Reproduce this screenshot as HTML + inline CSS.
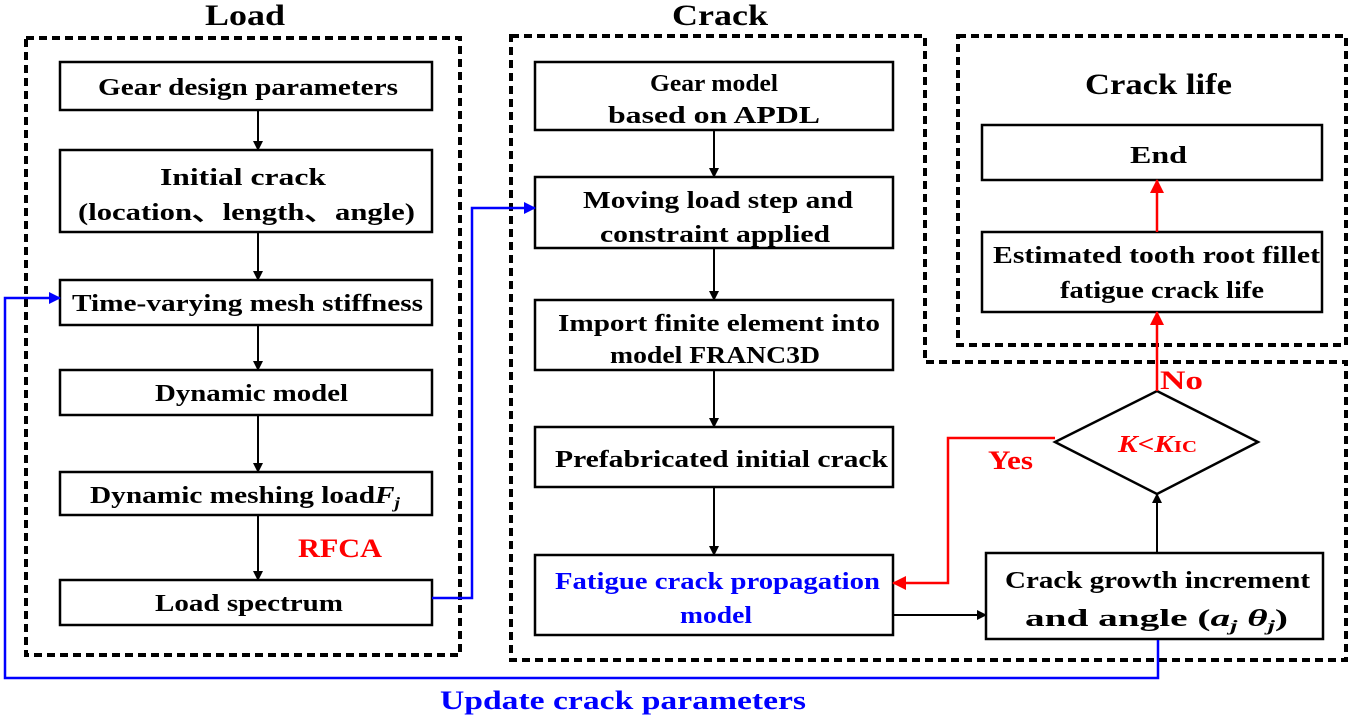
<!DOCTYPE html>
<html><head><meta charset="utf-8"><style>
html,body{margin:0;padding:0;background:#fff;}
svg{display:block;}
text{font-family:"Liberation Serif",serif;font-weight:bold;}
</style></head><body>
<svg width="1354" height="718" viewBox="0 0 1354 718" xmlns="http://www.w3.org/2000/svg">
<defs>
<marker id="ak" markerWidth="10" markerHeight="10" refX="9" refY="5" orient="auto" markerUnits="userSpaceOnUse"><path d="M0,0 L10,5 L0,10 z" fill="#000"/></marker>
<marker id="ar" markerWidth="14" markerHeight="14" refX="13" refY="7" orient="auto" markerUnits="userSpaceOnUse"><path d="M0,0 L14,7 L0,14 z" fill="#f00"/></marker>
<marker id="ab" markerWidth="12" markerHeight="12" refX="11" refY="6" orient="auto" markerUnits="userSpaceOnUse"><path d="M0,0 L12,6 L0,12 z" fill="#00f"/></marker>
</defs>
<g fill="none" stroke="#000" stroke-width="4" stroke-dasharray="8,5">
<rect x="26" y="38" width="434" height="617"/>
<path d="M511,36 H925 V362 H1346 V660 H511 Z"/>
<rect x="958" y="36" width="388" height="309"/>
</g>
<text x="205" y="25" font-size="30" textLength="80" lengthAdjust="spacingAndGlyphs">Load</text>
<text x="672" y="25" font-size="30" textLength="96" lengthAdjust="spacingAndGlyphs">Crack</text>
<text x="1085" y="94" font-size="30" textLength="147" lengthAdjust="spacingAndGlyphs">Crack life</text>
<g fill="#fff" stroke="#000" stroke-width="2.5">
<rect x="60" y="62" width="372" height="48"/>
<rect x="60" y="150" width="372" height="82"/>
<rect x="60" y="280" width="372" height="45"/>
<rect x="60" y="370" width="372" height="45"/>
<rect x="60" y="472" width="372" height="43"/>
<rect x="60" y="580" width="372" height="45"/>
<rect x="535" y="62" width="358" height="68"/>
<rect x="535" y="177" width="358" height="71"/>
<rect x="535" y="300" width="358" height="70"/>
<rect x="535" y="427" width="358" height="60"/>
<rect x="535" y="555" width="358" height="80"/>
<rect x="986" y="553" width="337" height="86"/>
<rect x="982" y="232" width="340" height="80"/>
<rect x="982" y="125" width="340" height="55"/>
<path d="M1157,391 L1258,442 L1157,494 L1055,442 Z"/>
</g>
<g font-size="24" fill="#000">
<text x="98" y="95" textLength="300" lengthAdjust="spacingAndGlyphs">Gear design parameters</text>
<text x="160" y="185" textLength="166" lengthAdjust="spacingAndGlyphs">Initial crack</text>
<text x="78" y="220" textLength="337" lengthAdjust="spacingAndGlyphs">(location、length、angle)</text>
<text x="72" y="311" textLength="351" lengthAdjust="spacingAndGlyphs">Time-varying mesh stiffness</text>
<text x="155" y="401" textLength="193" lengthAdjust="spacingAndGlyphs">Dynamic  model</text>
<text x="90" y="503" textLength="310" lengthAdjust="spacingAndGlyphs">Dynamic meshing load<tspan font-style="italic">F<tspan font-size="16" dy="5">j</tspan></tspan></text>
<text x="155" y="611" textLength="188" lengthAdjust="spacingAndGlyphs">Load spectrum</text>
<text x="650" y="91" textLength="128" lengthAdjust="spacingAndGlyphs">Gear model</text>
<text x="608" y="123" textLength="212" lengthAdjust="spacingAndGlyphs">based on APDL</text>
<text x="583" y="208" textLength="270" lengthAdjust="spacingAndGlyphs">Moving load step and</text>
<text x="600" y="242" textLength="230" lengthAdjust="spacingAndGlyphs">constraint applied</text>
<text x="558" y="331" textLength="322" lengthAdjust="spacingAndGlyphs">Import finite element into</text>
<text x="610" y="363" textLength="210" lengthAdjust="spacingAndGlyphs">model FRANC3D</text>
<text x="555" y="467" textLength="333" lengthAdjust="spacingAndGlyphs">Prefabricated initial crack</text>
<text x="555" y="589" fill="#00f" textLength="325" lengthAdjust="spacingAndGlyphs">Fatigue crack propagation</text>
<text x="680" y="623" fill="#00f" textLength="72" lengthAdjust="spacingAndGlyphs">model</text>
<text x="1005" y="588" textLength="305" lengthAdjust="spacingAndGlyphs">Crack growth increment</text>
<text x="1025" y="626" textLength="263" lengthAdjust="spacingAndGlyphs">and angle (<tspan font-style="italic">a<tspan font-size="16" dy="5">j</tspan><tspan dy="-5">  θ</tspan><tspan font-size="16" dy="5">j</tspan></tspan><tspan dy="-5">)</tspan></text>
<text x="993" y="263" textLength="327" lengthAdjust="spacingAndGlyphs">Estimated tooth root fillet</text>
<text x="1060" y="298" textLength="204" lengthAdjust="spacingAndGlyphs">fatigue crack life</text>
<text x="1130" y="163" textLength="57" lengthAdjust="spacingAndGlyphs">End</text>
<text x="1118" y="452" fill="#f00" font-style="italic" textLength="79" lengthAdjust="spacingAndGlyphs">K&lt;K<tspan font-style="normal" font-size="17">IC</tspan></text>
</g>
<g stroke="#000" stroke-width="2" fill="none" marker-end="url(#ak)">
<line x1="258" y1="110" x2="258" y2="150"/>
<line x1="258" y1="232" x2="258" y2="280"/>
<line x1="258" y1="325" x2="258" y2="370"/>
<line x1="258" y1="415" x2="258" y2="472"/>
<line x1="258" y1="515" x2="258" y2="580"/>
<line x1="714" y1="130" x2="714" y2="177"/>
<line x1="714" y1="248" x2="714" y2="300"/>
<line x1="714" y1="370" x2="714" y2="427"/>
<line x1="714" y1="487" x2="714" y2="555"/>
<line x1="893" y1="615" x2="986" y2="615"/>
<line x1="1157" y1="553" x2="1157" y2="494"/>
</g>
<g stroke="#f00" stroke-width="2.5" fill="none" marker-end="url(#ar)">
<path d="M1055,438 H948 V583 H893"/>
<line x1="1157" y1="391" x2="1157" y2="312"/>
<line x1="1157" y1="232" x2="1157" y2="180"/>
</g>
<g stroke="#00f" stroke-width="2.5" fill="none" marker-end="url(#ab)">
<path d="M432,598 H472 V208 H535"/>
<path d="M1158,640 V678 H5 V298 H60"/>
</g>
<text x="298" y="557" font-size="26" fill="#f00" textLength="84" lengthAdjust="spacingAndGlyphs">RFCA</text>
<text x="988" y="469" font-size="26" fill="#f00" textLength="45" lengthAdjust="spacingAndGlyphs">Yes</text>
<text x="1160" y="389" font-size="26" fill="#f00" textLength="43" lengthAdjust="spacingAndGlyphs">No</text>
<text x="440" y="709" font-size="26" fill="#00f" textLength="366" lengthAdjust="spacingAndGlyphs">Update crack parameters</text>
</svg>
</body></html>
